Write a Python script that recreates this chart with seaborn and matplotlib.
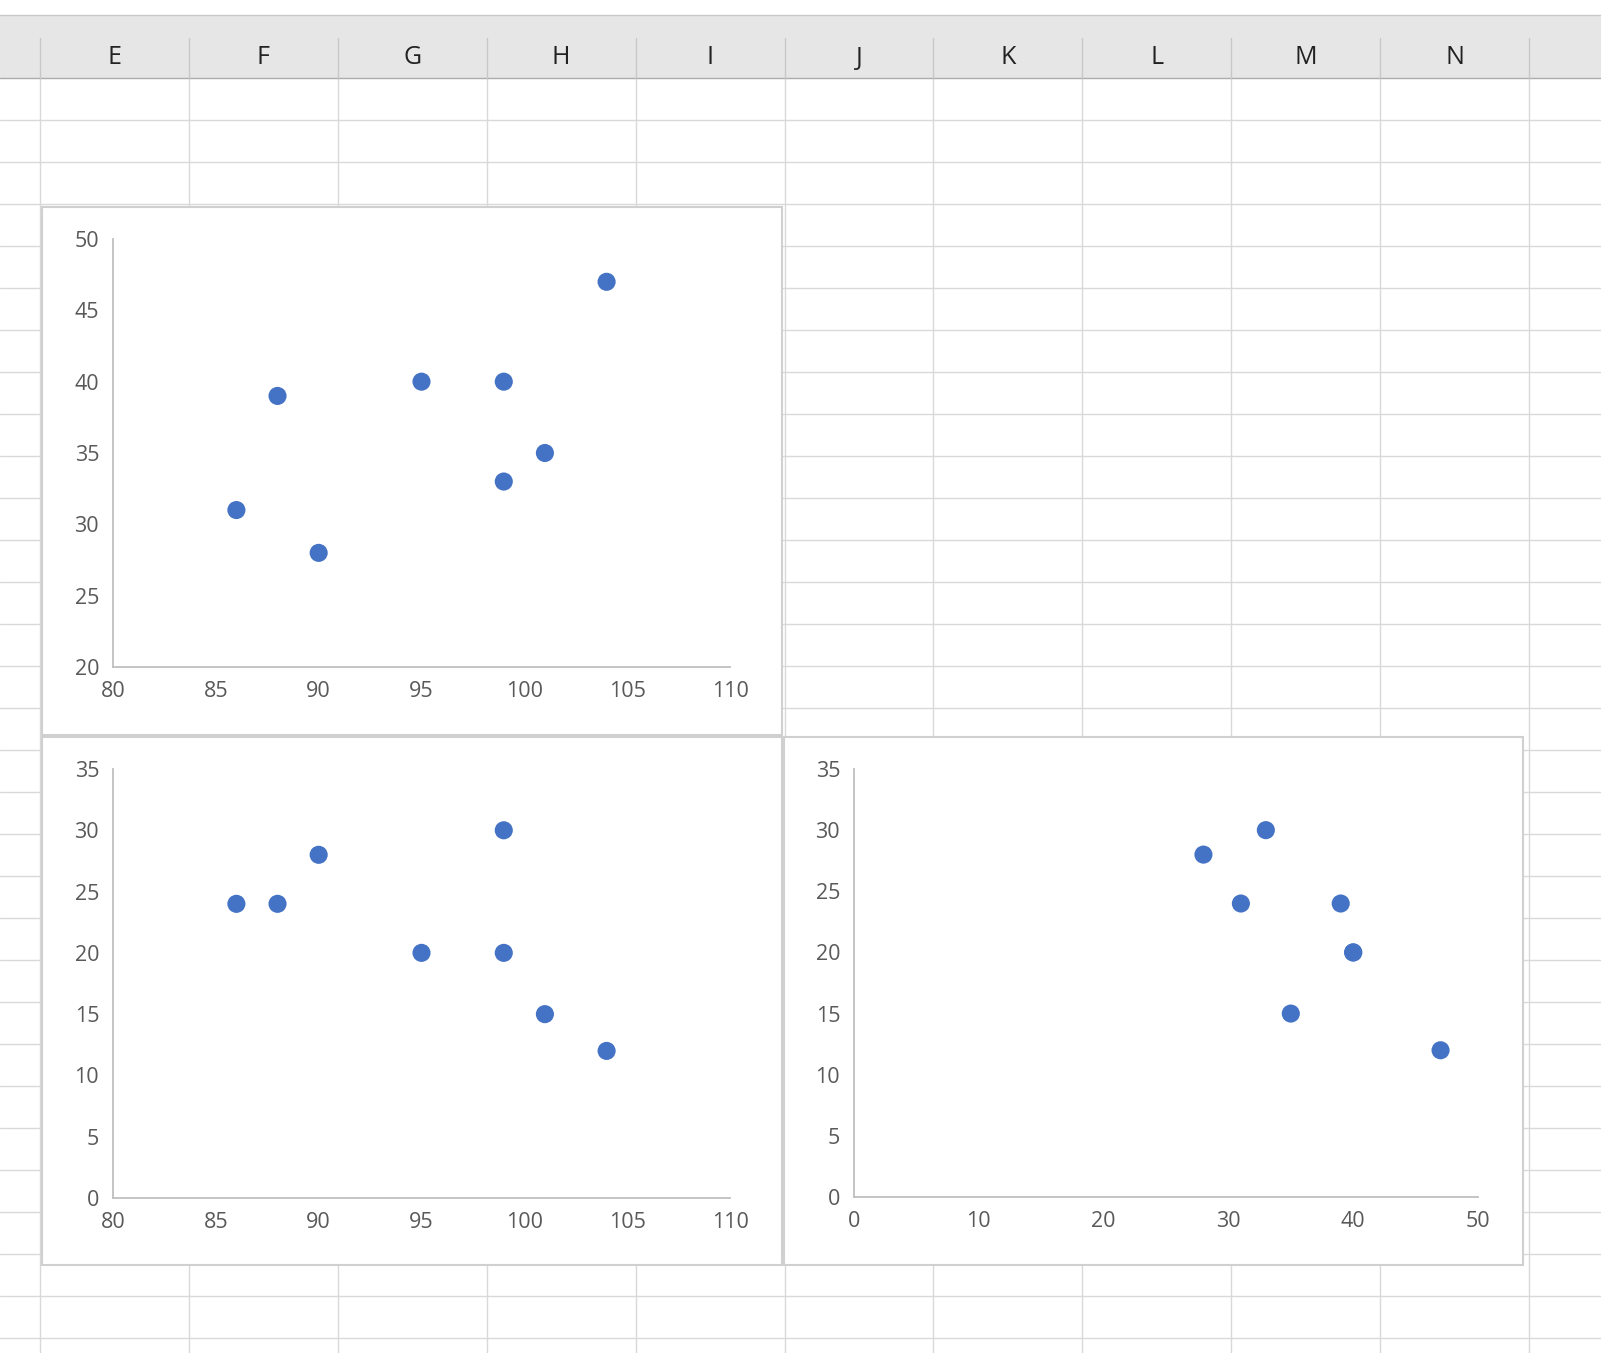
import matplotlib
matplotlib.use("Agg")
import matplotlib.pyplot as plt
import seaborn as sns
import pandas as pd
from matplotlib.patches import Rectangle

x_vals = [86, 88, 90, 95, 99, 99, 101, 104]
y1_vals = [31, 39, 28, 40, 40, 33, 35, 47]
y2_vals = [24, 24, 28, 20, 20, 30, 15, 12]
columns = ["E", "F", "G", "H", "I", "J", "K", "L", "M", "N"]

df = pd.DataFrame({"x": x_vals, "y1": y1_vals, "y2": y2_vals})

sns.set_style("white")
plt.rcParams['font.family'] = ['Open Sans', 'DejaVu Sans']
W, H = 1601, 1353
fig = plt.figure(figsize=(W / 100, H / 100), dpi=100)

bg = fig.add_axes([0, 0, 1, 1])
bg.set_xlim(0, W); bg.set_ylim(H, 0); bg.axis("off")
grid_c = "#D9D9D9"
col_x = [40 + 148.9 * i for i in range(11)]
y = 120
while y < H:
    bg.plot([0, W], [y, y], color=grid_c, lw=1, zorder=1)
    y += 42
for cx in col_x:
    bg.plot([cx, cx], [78, H], color=grid_c, lw=1, zorder=1)
bg.add_patch(Rectangle((0, 15), W, 63, facecolor="#E6E6E6", edgecolor="none", zorder=2))
bg.plot([0, W], [15, 15], color="#C8C8C8", lw=1, zorder=3)
bg.plot([0, W], [78, 78], color="#ABABAB", lw=1, zorder=3)
for i, c in enumerate(columns):
    bg.plot([col_x[i], col_x[i]], [38, 78], color="#C8C8C8", lw=1, zorder=3)
    bg.text((col_x[i] + col_x[i + 1]) / 2, 58, c, ha="center", va="center",
            fontsize=18, color="#222222", zorder=4)
bg.plot([col_x[-1], col_x[-1]], [38, 78], color="#C8C8C8", lw=1, zorder=3)
for (l, t, r, b) in [(42, 207, 782, 735), (42, 737, 782, 1265), (784, 737, 1523, 1265)]:
    bg.add_patch(Rectangle((l, t), r - l, b - t, facecolor="white", edgecolor="#D0D0D0", lw=1.5, zorder=5))

def px_axes(l, t, r, b):
    return fig.add_axes([l / W, 1 - b / H, (r - l) / W, (b - t) / H])

def style(ax, xlim, ylim, xt, yt):
    ax.set_xlim(*xlim); ax.set_ylim(*ylim)
    ax.set_xticks(xt); ax.set_yticks(yt)
    ax.set_facecolor("none")
    for s in ["top", "right"]:
        ax.spines[s].set_visible(False)
    for s in ["left", "bottom"]:
        ax.spines[s].set_color("#BFBFBF"); ax.spines[s].set_linewidth(1.3)
    ax.tick_params(length=0, labelsize=15.5, colors="#595959", pad=10)
    ax.set_xlabel(""); ax.set_ylabel("")

blue = "#4472C4"
ax1 = px_axes(113, 239, 730, 667)
sns.scatterplot(data=df, x="x", y="y1", ax=ax1, color=blue, s=170, edgecolor="none", clip_on=False)
style(ax1, (80, 110), (20, 50), range(80, 111, 5), range(20, 51, 5))

ax2 = px_axes(113, 769, 730, 1198)
sns.scatterplot(data=df, x="x", y="y2", ax=ax2, color=blue, s=170, edgecolor="none", clip_on=False)
style(ax2, (80, 110), (0, 35), range(80, 111, 5), range(0, 36, 5))

ax3 = px_axes(854, 769, 1478, 1197)
sns.scatterplot(data=df, x="y1", y="y2", ax=ax3, color=blue, s=170, edgecolor="none", clip_on=False)
style(ax3, (0, 50), (0, 35), range(0, 51, 10), range(0, 36, 5))

fig.savefig("out.png", dpi=100)
